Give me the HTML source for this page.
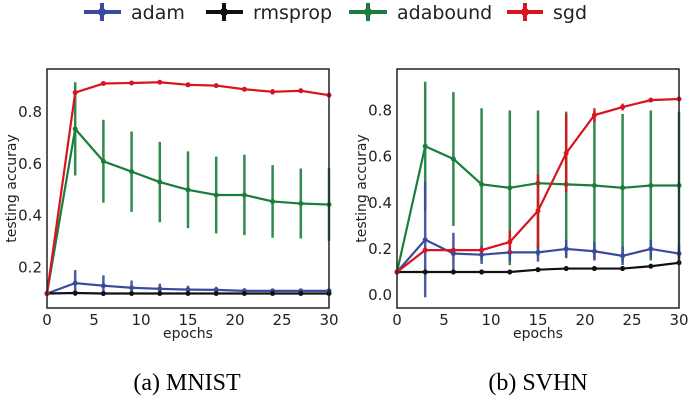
<!DOCTYPE html>
<html><head><meta charset="utf-8"><style>
body{margin:0;background:#fff;width:696px;height:401px;overflow:hidden}
svg text{font-family:"DejaVu Sans","Liberation Sans",sans-serif;fill:#222}
.cap{font-family:"Liberation Serif",serif;font-size:24px;fill:#000}
</style></head><body>
<svg id="s" width="696" height="401" xmlns="http://www.w3.org/2000/svg">
<g>
 <g><line x1="84" y1="12" x2="121" y2="12" stroke="#3b4a9c" stroke-width="4"/><line x1="102" y1="3" x2="102" y2="21" stroke="#3b4a9c" stroke-width="4"/><circle cx="102" cy="12" r="4" fill="#3b4a9c"/><text x="131" y="19" font-size="19">adam</text></g>
 <g><line x1="206" y1="12" x2="243" y2="12" stroke="#111" stroke-width="4"/><line x1="224" y1="3" x2="224" y2="21" stroke="#111" stroke-width="4"/><circle cx="224" cy="12" r="4" fill="#111"/><text x="253" y="19" font-size="19">rmsprop</text></g>
 <g><line x1="349" y1="12" x2="387" y2="12" stroke="#1a7d3c" stroke-width="4"/><line x1="368" y1="3" x2="368" y2="21" stroke="#1a7d3c" stroke-width="4"/><circle cx="368" cy="12" r="4" fill="#1a7d3c"/><text x="397" y="19" font-size="19">adabound</text></g>
 <g><line x1="507" y1="12" x2="543" y2="12" stroke="#d7141f" stroke-width="4"/><line x1="525" y1="3" x2="525" y2="21" stroke="#d7141f" stroke-width="4"/><circle cx="525" cy="12" r="4" fill="#d7141f"/><text x="553" y="19" font-size="19">sgd</text></g>
</g>
<text class="cap" x="187" y="390" text-anchor="middle">(a) MNIST</text>
<text class="cap" x="538" y="390" text-anchor="middle">(b) SVHN</text>
</svg>
<script>
const epochs=[0,3,6,9,12,15,18,21,24,27,30];
const xTicks=[0,5,10,15,20,25,30];
const mnistYTicks=[0.2,0.4,0.6,0.8];
const svhnYTicks=[0.0,0.2,0.4,0.6,0.8];
const mnistSgd=[0.1,0.875,0.91,0.912,0.915,0.905,0.902,0.888,0.878,0.882,0.865];
const mnistSgdErr=[0,0.005,0.005,0.005,0.005,0.005,0.005,0.008,0.01,0.008,0.005];
const mnistAdabound=[0.1,0.735,0.61,0.57,0.53,0.5,0.48,0.48,0.455,0.447,0.443];
const mnistAdaboundErr=[0,0.18,0.16,0.155,0.155,0.148,0.148,0.155,0.14,0.135,0.14];
const mnistAdam=[0.1,0.14,0.13,0.122,0.118,0.115,0.114,0.11,0.11,0.11,0.11];
const mnistAdamErr=[0,0.05,0.04,0.028,0.02,0.015,0.012,0.01,0.008,0.008,0.008];
const mnistRms=[0.1,0.102,0.1,0.1,0.1,0.1,0.1,0.1,0.1,0.1,0.1];
const mnistRmsErr=[0,0.005,0.003,0.003,0.003,0.003,0.003,0.003,0.003,0.003,0.003];
const svhnSgd=[0.1,0.195,0.195,0.195,0.23,0.365,0.615,0.78,0.815,0.845,0.85];
const svhnSgdErr=[0,0.01,0.01,0.01,0.05,0.16,0.17,0.03,0.015,0.008,0.005];
const svhnAdabound=[0.1,0.645,0.59,0.48,0.465,0.485,0.48,0.475,0.465,0.475,0.475];
const svhnAdaboundErr=[0,0.28,0.29,0.33,0.335,0.315,0.315,0.32,0.32,0.325,0.32];
const svhnAdam=[0.1,0.24,0.18,0.175,0.185,0.185,0.2,0.19,0.17,0.2,0.18];
const svhnAdamErr=[0,0.25,0.09,0.04,0.04,0.04,0.04,0.04,0.04,0.04,0.04];
const svhnRms=[0.1,0.1,0.1,0.1,0.1,0.11,0.115,0.115,0.115,0.125,0.14];
const svhnRmsErr=[0,0.01,0.01,0.01,0.01,0.01,0.01,0.01,0.01,0.01,0.01];
const C={adam:'#3b4a9c',rmsprop:'#111',adabound:'#1a7d3c',sgd:'#d7141f'};
const NS='http://www.w3.org/2000/svg';
const svg=document.getElementById('s');
function mk(tag,at,parent){const e=document.createElementNS(NS,tag);for(const k in at)e.setAttribute(k,at[k]);(parent||svg).appendChild(e);return e;}
function panel(name,x0,x1,yTop,yBot,vTop,vBot,yTicks,series){
  const g=mk('g',{});
  
  
  const sx=v=>x0+(v-0)/30*(x1-x0);
  const sy=v=>yBot-(v-vBot)/(vTop-vBot)*(yBot-yTop);
  xTicks.forEach(t=>{const tx=mk('text',{x:sx(t),y:yBot+17,'font-size':15,'text-anchor':'middle'},g);tx.textContent=t;
    
    });
  yTicks.forEach(t=>{const tx=mk('text',{x:x0-5,y:sy(t)+5,'font-size':15,'text-anchor':'end'},g);tx.textContent=t.toFixed(1);
    
    });
  const xl=mk('text',{x:(x0+x1)/2,y:yBot+30,'font-size':14,'text-anchor':'middle'},g);xl.textContent='epochs';
  
  
  const cy=(yTop+yBot)/2;
  const yl=mk('text',{x:x0-31,y:cy,'font-size':14,'text-anchor':'middle',transform:`rotate(-90 ${x0-31} ${cy})`},g);yl.textContent='testing accuray';
  
  
  series.forEach(([sn,vals,errs])=>{
    const sg=mk('g',{},g);
    
    
    vals.forEach((v,i)=>{if(errs[i]>0){const l=mk('line',{x1:sx(epochs[i]),x2:sx(epochs[i]),y1:sy(Math.min(v+errs[i],vTop)),y2:sy(Math.max(v-errs[i],vBot)),stroke:C[sn],'stroke-width':2.5,'stroke-opacity':0.9},sg);
      
      }});
    const p=mk('polyline',{points:vals.map((v,i)=>sx(epochs[i])+','+sy(v)).join(' '),fill:'none',stroke:C[sn],'stroke-width':2.2},sg);
    
    
    vals.forEach((v,i)=>{const c=mk('circle',{cx:sx(epochs[i]),cy:sy(v),r:2.5,fill:C[sn]},sg);
      
      });
  });
  const fr=mk('rect',{x:x0,y:yTop,width:x1-x0,height:yBot-yTop,fill:'none',stroke:'#222','stroke-width':1.5},g);
  
  
}
panel('mnist',47,329,69,308,0.966,0.044,mnistYTicks,[['adam',mnistAdam,mnistAdamErr],['rmsprop',mnistRms,mnistRmsErr],['adabound',mnistAdabound,mnistAdaboundErr],['sgd',mnistSgd,mnistSgdErr]]);
panel('svhn',397,679,69,308,0.98,-0.056,svhnYTicks,[['adabound',svhnAdabound,svhnAdaboundErr],['adam',svhnAdam,svhnAdamErr],['rmsprop',svhnRms,svhnRmsErr],['sgd',svhnSgd,svhnSgdErr]]);
</script>
</body></html>
